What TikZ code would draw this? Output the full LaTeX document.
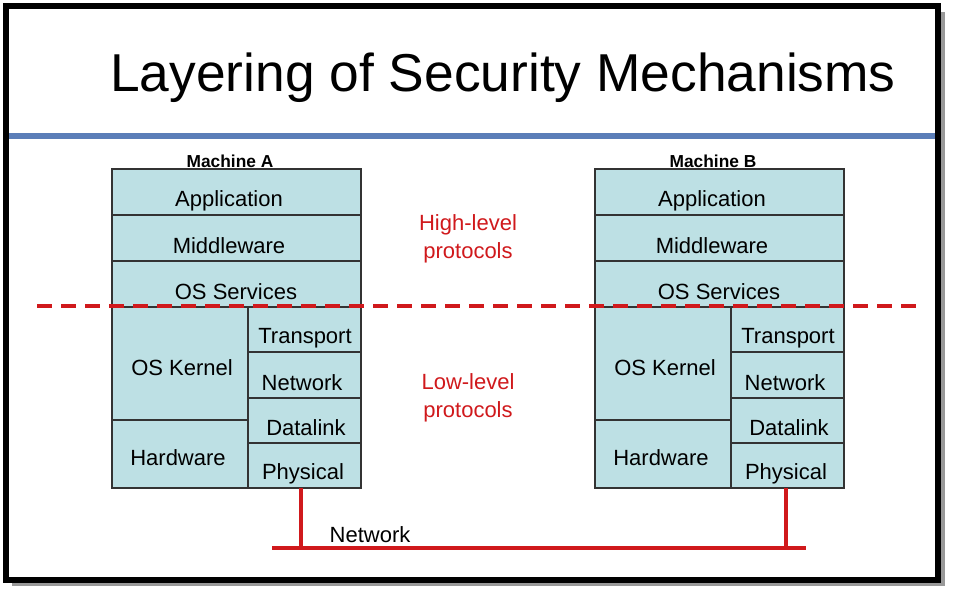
\documentclass[tikz,border=0pt]{standalone}
\usepackage{fontspec}
\setmainfont{Liberation Sans}
\begin{document}
\begin{tikzpicture}[x=0.75pt,y=-0.75pt,
  lay/.style={draw=black!80,fill=cellc,line width=0.8pt,inner sep=0pt},
  lbl/.style={font=\fontsize{16.5}{18}\selectfont},
  red/.style={text=redc,font=\fontsize{16.5}{21}\selectfont,align=center},
  net/.style={draw=redc,line width=3.5pt}]
\definecolor{cellc}{HTML}{BDE0E4}
\definecolor{redc}{HTML}{D0191C}
\definecolor{bluec}{HTML}{5B7EB8}
\useasboundingbox (0,0) rectangle (953,595);
\fill[white] (0,0) rectangle (953,595);
\fill[black!40] (12,12) rectangle (945,586);
\draw[line width=4.5pt,fill=white] (6,6) rectangle (938,580);
\draw[bluec,line width=4pt] (9,136) -- (935,136);
\node[font=\fontsize{40}{44}\selectfont] (title) at (503,78) {Layering of Security Mechanisms};
\foreach \m/\x/\d/\name in {A/112/248/Machine A, B/595/731/Machine B}{
  \node[font=\bfseries\fontsize{13}{15}\selectfont] (mach\m) at ({\x+118},161) {\name};
  \draw[lay] (\x,169) rectangle ({\x+249},215);
  \draw[lay] (\x,215) rectangle ({\x+249},261);
  \draw[lay] (\x,261) rectangle ({\x+249},307);
  \draw[lay] (\x,307) rectangle (\d,420);
  \draw[lay] (\x,420) rectangle (\d,488);
  \draw[lay] (\d,307) rectangle ({\x+249},352);
  \draw[lay] (\d,352) rectangle ({\x+249},398);
  \draw[lay] (\d,398) rectangle ({\x+249},443);
  \draw[lay] (\d,443) rectangle ({\x+249},488);
  \node[lbl] (app\m) at ({\x+117},201) {Application};
  \node[lbl] (mid\m) at ({\x+117},246) {Middleware};
  \node[lbl] (oss\m) at ({\x+124},292) {OS Services};
  \node[lbl] (ker\m) at ({(\x+\d)/2+2},368) {OS Kernel};
  \node[lbl] (hw\m) at ({(\x+\d)/2-2},458) {Hardware};
  \node[lbl] (tr\m) at ({\d+57},338) {Transport};
  \node[lbl] (nw\m) at ({\d+54},383) {Network};
  \node[lbl] (dl\m) at ({\d+58},428) {Datalink};
  \node[lbl] (ph\m) at ({\d+55},474) {Physical};
}
\draw[redc,line width=2.3pt,dash pattern=on 11pt off 7pt] (37,306) -- (922,306);
\node[red] (hl) at (468,239) {High-level\\ protocols};
\node[red] (ll) at (468,398) {Low-level\\ protocols};
\coordinate (nl) at (272,548);
\coordinate (nr) at (806,548);
\coordinate (ta) at (301,488);
\coordinate (tb) at (786,488);
\draw[net] (nl) -- (nr);
\draw[redc,line width=2.3pt] (ta) -- (ta|-nl);
\draw[redc,line width=2.3pt] (tb) -- (tb|-nl);
\node[lbl] (netl) at (370,535) {Network};
\end{tikzpicture}
\end{document}
